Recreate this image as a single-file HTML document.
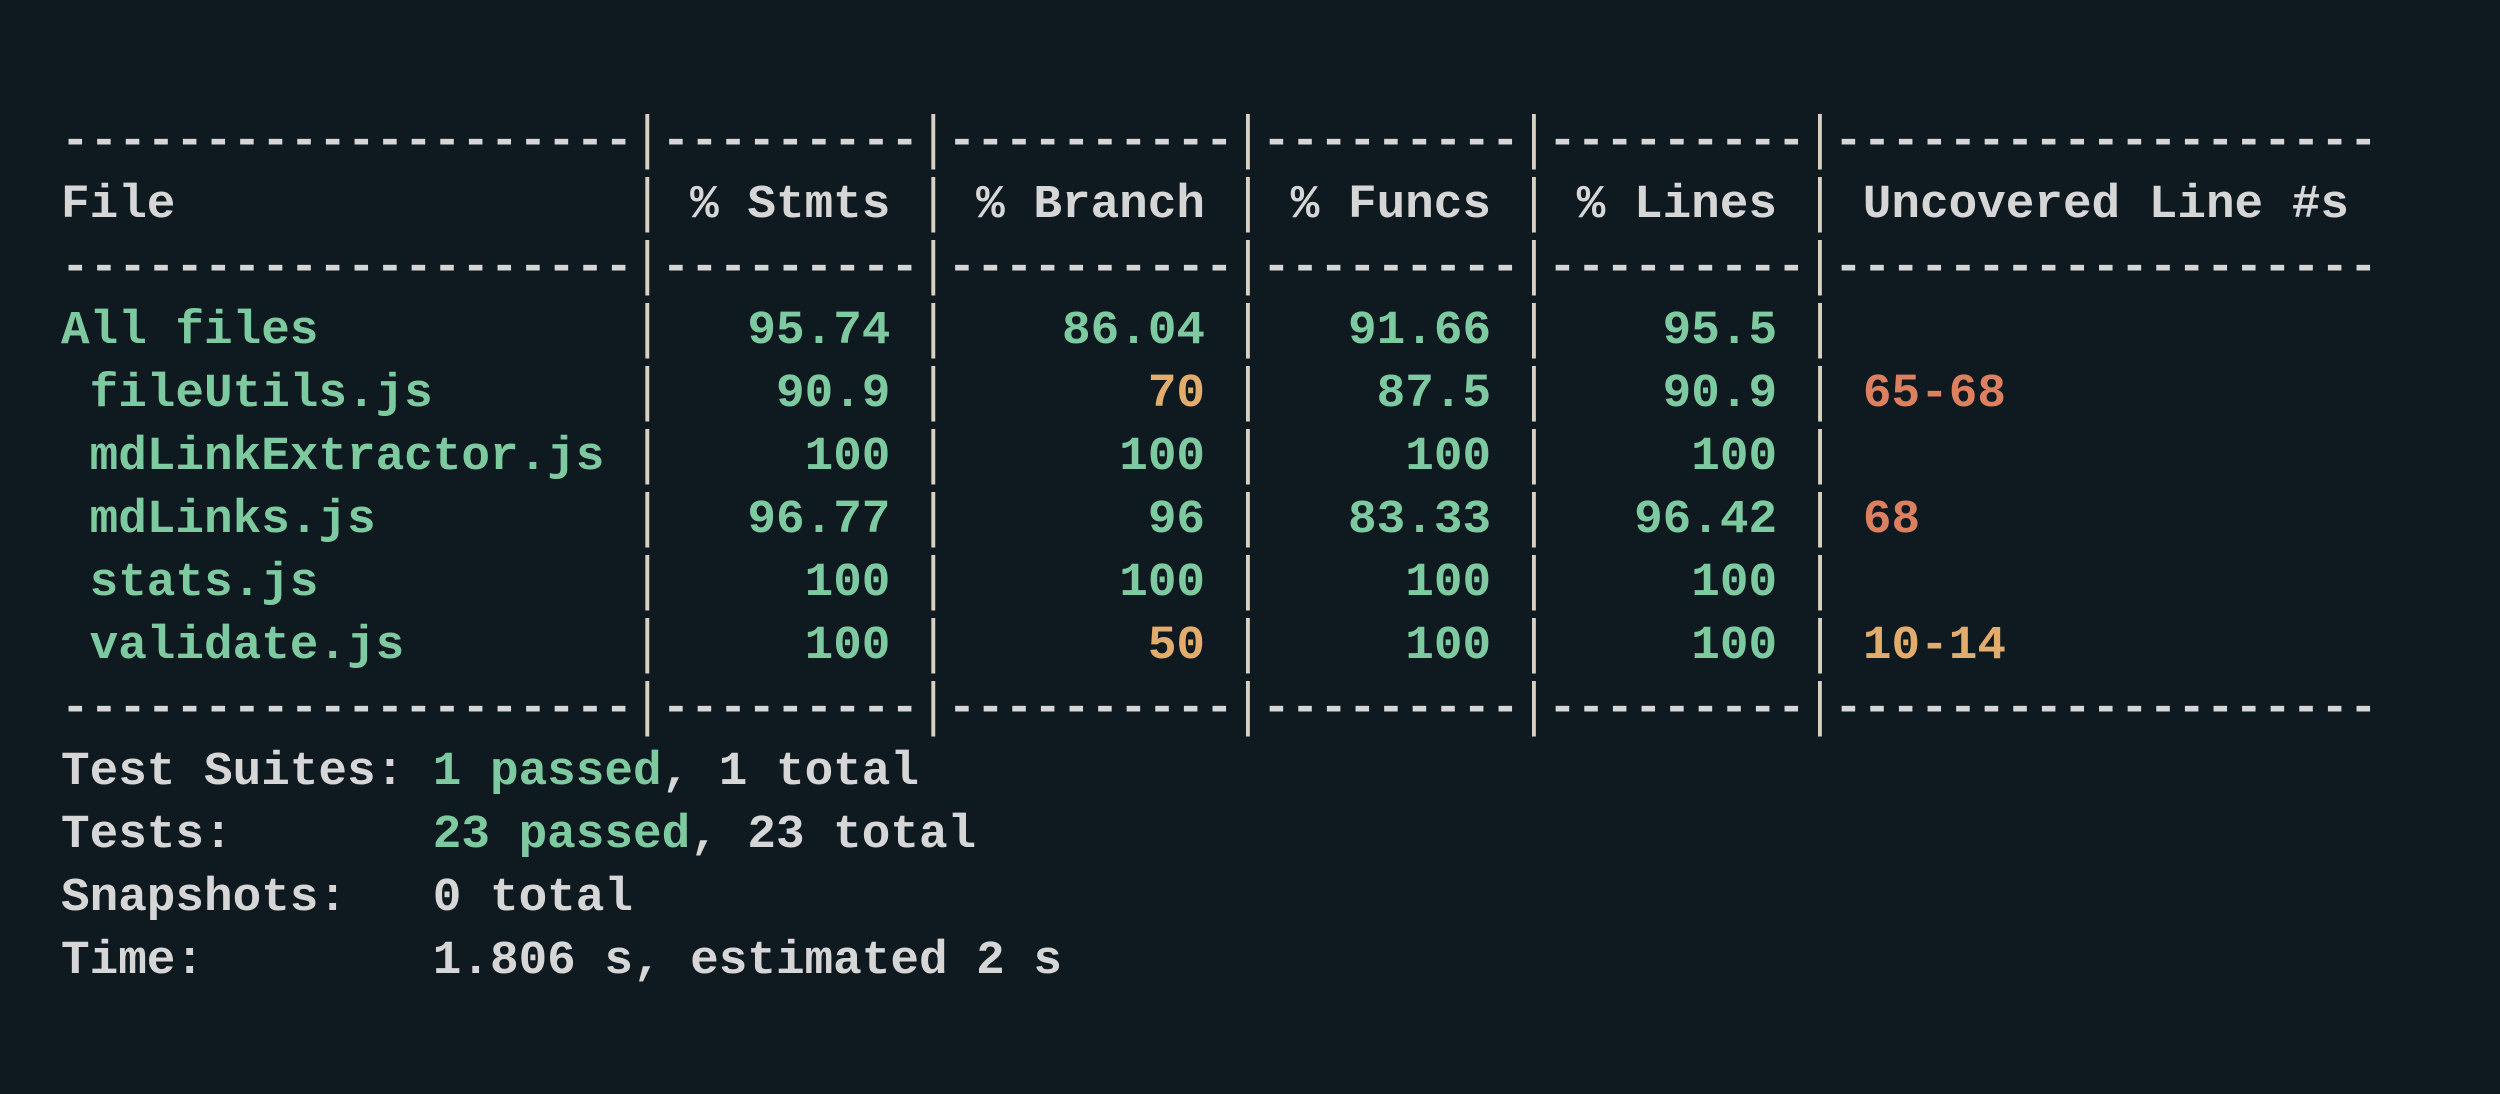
<!DOCTYPE html>
<html><head><style>
html,body{margin:0;padding:0;width:2500px;height:1094px;background:#0f1920;overflow:hidden}
pre{position:absolute;left:61px;top:111px;margin:0;font-family:"Liberation Mono",monospace;font-weight:bold;font-size:47.67px;line-height:63px;color:#d6d6d6}
.g{color:#7dcaa0}.o{color:#e2ad6c}.r{color:#dc8060}
.p{display:inline-block;transform:scaleY(1.25);font-weight:normal;color:#d8d0c0}
</style></head><body>
<pre>--------------------<span class="p">|</span>---------<span class="p">|</span>----------<span class="p">|</span>---------<span class="p">|</span>---------<span class="p">|</span>-------------------
File                <span class="p">|</span> % Stmts <span class="p">|</span> % Branch <span class="p">|</span> % Funcs <span class="p">|</span> % Lines <span class="p">|</span> Uncovered Line #s
--------------------<span class="p">|</span>---------<span class="p">|</span>----------<span class="p">|</span>---------<span class="p">|</span>---------<span class="p">|</span>-------------------
<span class="g">All files</span>           <span class="p">|</span> <span class="g">  95.74</span> <span class="p">|</span> <span class="g">   86.04</span> <span class="p">|</span> <span class="g">  91.66</span> <span class="p">|</span> <span class="g">   95.5</span> <span class="p">|</span>
<span class="g"> fileUtils.js</span>       <span class="p">|</span> <span class="g">   90.9</span> <span class="p">|</span> <span class="o">      70</span> <span class="p">|</span> <span class="g">   87.5</span> <span class="p">|</span> <span class="g">   90.9</span> <span class="p">|</span> <span class="r">65-68</span>
<span class="g"> mdLinkExtractor.js</span> <span class="p">|</span> <span class="g">    100</span> <span class="p">|</span> <span class="g">     100</span> <span class="p">|</span> <span class="g">    100</span> <span class="p">|</span> <span class="g">    100</span> <span class="p">|</span>
<span class="g"> mdLinks.js</span>         <span class="p">|</span> <span class="g">  96.77</span> <span class="p">|</span> <span class="g">      96</span> <span class="p">|</span> <span class="g">  83.33</span> <span class="p">|</span> <span class="g">  96.42</span> <span class="p">|</span> <span class="r">68</span>
<span class="g"> stats.js</span>           <span class="p">|</span> <span class="g">    100</span> <span class="p">|</span> <span class="g">     100</span> <span class="p">|</span> <span class="g">    100</span> <span class="p">|</span> <span class="g">    100</span> <span class="p">|</span>
<span class="g"> validate.js</span>        <span class="p">|</span> <span class="g">    100</span> <span class="p">|</span> <span class="o">      50</span> <span class="p">|</span> <span class="g">    100</span> <span class="p">|</span> <span class="g">    100</span> <span class="p">|</span> <span class="o">10-14</span>
--------------------<span class="p">|</span>---------<span class="p">|</span>----------<span class="p">|</span>---------<span class="p">|</span>---------<span class="p">|</span>-------------------
Test Suites: <span class="g">1 passed</span>, 1 total
Tests:       <span class="g">23 passed</span>, 23 total
Snapshots:   0 total
Time:        1.806 s, estimated 2 s</pre>
</body></html>
